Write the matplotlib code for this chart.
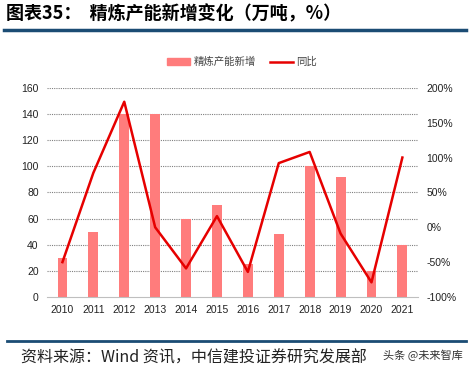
import numpy as np
import matplotlib
matplotlib.use("Agg")
from matplotlib import pyplot as plt
from matplotlib.lines import Line2D

plt.rcParams['font.family'] = ['Liberation Sans', 'Noto Sans CJK SC', 'DejaVu Sans']

years = ['2010', '2011', '2012', '2013', '2014', '2015',
         '2016', '2017', '2018', '2019', '2020', '2021']
new_capacity = [30, 50, 140, 140, 60, 70, 25, 48, 100, 92, 20, 40]
yoy = [-50, 78, 180, 0, -59, 16, -64, 92, 108, -9, -79, 100]

bar_color = '#FF7C7C'
line_color = '#E60000'
navy = '#1B4C74'
cjk = ['Noto Sans CJK SC', 'DejaVu Sans']

fig = plt.figure(figsize=(4.7, 3.72), dpi=100)

# title and rule
fig.text(0.012, 0.962, '图表35：  精炼产能新增变化（万吨，%）', fontsize=13,
         fontweight='bold', family=cjk, va='center', ha='left', color='black')
fig.add_artist(Line2D([0.008, 0.992], [0.92, 0.92], color=navy, lw=2.5))

ax = fig.add_axes([0.1, 0.2016, 0.789, 0.5624])
x = np.arange(len(years))
ax.bar(x, new_capacity, width=0.32, color=bar_color, zorder=2)
ax.set_ylim(0, 160)
ax.set_yticks(range(0, 161, 20))
ax.set_xlim(-0.5, len(years) - 0.5)
ax.set_xticks(x)
ax.set_xticklabels(years)
for s in ['top', 'right', 'left']:
    ax.spines[s].set_visible(False)
ax.spines['bottom'].set_color('#BFBFBF')
ax.tick_params(length=0, labelsize=7.5, colors='#222222', pad=6)
for v in range(20, 161, 20):
    ax.axhline(v, color='#808080', lw=0.8, ls=(0, (1, 1)), zorder=1)

ax2 = ax.twinx()
ax2.plot(x, yoy, color=line_color, lw=1.8, zorder=3)
ax2.set_ylim(-100, 200)
ax2.set_yticks(range(-100, 201, 50))
ax2.set_yticklabels([f'{v}%' for v in range(-100, 201, 50)])
for s in ['top', 'right', 'left', 'bottom']:
    ax2.spines[s].set_visible(False)
ax2.tick_params(length=0, labelsize=7.5, colors='#222222', pad=6)

handles = [plt.Rectangle((0, 0), 1, 1, color=bar_color),
           Line2D([0], [0], color=line_color, lw=1.8)]
fig.legend(handles, ['精炼产能新增', '同比'], loc='center', ncol=2,
           bbox_to_anchor=(0.515, 0.833), frameon=False, handlelength=2.2,
           handletextpad=0.3, columnspacing=1.4, labelcolor='#444444',
           prop={'family': cjk, 'size': 7.5})

# footer
fig.add_artist(Line2D([0.015, 0.992], [0.082, 0.082], color=navy, lw=2))
fig.text(0.045, 0.038, '资料来源：Wind 资讯，中信建投证券研究发展部', fontsize=11.5,
         style='italic', family=cjk, va='center', ha='left', color='#222222')
fig.text(0.985, 0.045, '头条 @未来智库', fontsize=8, family=cjk,
         va='center', ha='right', color='#333333')

plt.savefig('out.png', dpi=100)
